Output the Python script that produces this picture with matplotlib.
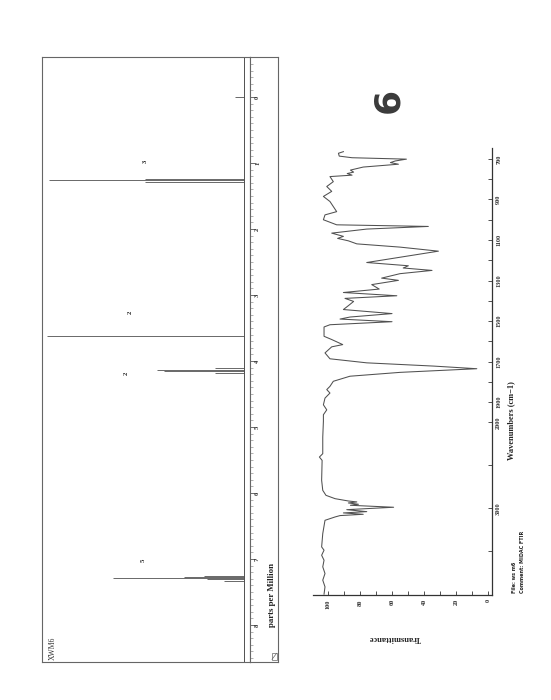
import matplotlib.pyplot as plt
import numpy as np
from matplotlib.patches import Rectangle

# scanned page: NMR + IR spectra, page turned 90 deg counter-clockwise

# 1H NMR peaks (ppm, height)
nmr_ppm = [0.0, 1.235, 1.26, 1.285, 3.62, 4.105, 4.13, 4.155, 4.18, 7.25, 7.27, 7.29, 7.31, 7.33]
nmr_int = [9, 99, 195, 99, 197, 29, 87, 80, 29, 40, 60, 131, 37, 20]

# integration labels
integ_text = ['3', '2', '2', '5']
integ_ppm = [0.98, 3.26, 4.18, 7.02]
integ_pos = [99, 114, 118, 101]

ppm_ticks = [0, 1, 2, 3, 4, 5, 6, 7, 8]

# IR spectrum (wavenumber cm-1, %T)
ir_wn = [664, 672, 686, 694, 701, 710, 718, 726, 740, 755, 765, 772, 780, 787,
         812, 836, 860, 885, 910, 935, 960, 976, 1000, 1025, 1033, 1046, 1066,
         1082, 1092, 1104, 1119, 1135, 1155, 1211, 1227, 1238, 1250, 1266, 1288,
         1299, 1320, 1342, 1359, 1375, 1388, 1403, 1424, 1443, 1463, 1480, 1490,
         1503, 1518, 1529, 1575, 1591, 1616, 1627, 1657, 1686, 1706, 1722, 1735,
         1753, 1772, 1797, 1822, 1838, 1855, 1880, 1913, 1938, 1962, 1995, 2171,
         2364, 2403, 2442, 2674, 2791, 2849, 2888, 2915, 2926, 2938, 2953, 2965,
         2988, 3016, 3039, 3054, 3070, 3085, 3101, 3140, 3295, 3450, 3488, 3547,
         3605, 3682, 3760, 3837, 3915, 4000]
ir_t = [90.4, 93.5, 93, 85, 51, 58, 61, 56, 78, 86, 84, 88, 85, 98.8,
        96.7, 100.8, 97.7, 102.9, 98.8, 96.7, 94.6, 101.9, 102.9, 94.6, 37.3, 75.8, 97.7,
        90.4, 94, 87.3, 82, 55, 31, 75.8, 49.8, 53, 35, 55, 66.5,
        56, 72.7, 68, 90.4, 57, 89.4, 84, 87.3, 90.4, 60, 86.3, 92.5,
        60, 98.8, 102.5, 102.5, 97.7, 90.8, 97.7, 101.9, 98.8, 75.8, 34, 7,
        55, 86.3, 96.7, 98.8, 100.8, 98.8, 101.9, 102.9, 100.8, 102.9, 102.9, 103.3,
        103.3, 105.4, 103.7, 104, 103.3, 101.3, 95.6, 87.3, 82, 87.3, 81, 86,
        59, 88.3, 75.8, 90.4, 78, 92.5, 95.6, 101.9, 103.3, 104, 102.5, 104,
        102.5, 103.3, 101.9, 103.3, 101.9, 102.5]

wn_major = [700, 900, 1100, 1300, 1500, 1700, 1900, 2000, 3000]
wn_minor = [800, 1000, 1200, 1400, 1600, 1800, 2500, 3500]
t_major = [0, 20, 40, 60, 80, 100]
t_minor = [10, 30, 50, 70, 90]

W, H = 551, 700
ink = '#505050'
serif = ['Liberation Serif', 'DejaVu Serif']


def rect(x0, y0, x1, y1):
    # pixel box (top-left / bottom-right) -> figure fractions
    return [x0 / W, 1 - y1 / H, (x1 - x0) / W, (y1 - y0) / H]


fig = plt.figure(figsize=(W / 100, H / 100), dpi=100)

# ---- NMR panel ----
ppm_top, ppm_bot = -0.606, 8.56
ax = fig.add_axes(rect(42, 57, 250, 662))
ax.set_xlim(202, -6)
ax.set_ylim(ppm_bot, ppm_top)
ax.axvline(0, color=ink, lw=0.7)
ax.hlines(nmr_ppm, 0, nmr_int, color=ink, lw=0.6)
for t, p, x in zip(integ_text, integ_ppm, integ_pos):
    ax.text(x, p, t, rotation=90, fontsize=4.8, fontweight='bold', color='#222',
            ha='center', va='center', family=serif)
ax.text(191, 8.36, 'XWM6', rotation=90, fontsize=5.5, color='#333',
        ha='center', va='center', family=serif)
ax.set_xticks([])
ax.set_yticks([])
for s in ax.spines.values():
    s.set_color('#666')
    s.set_linewidth(0.8)

# ppm scale strip
sx = fig.add_axes(rect(250, 57, 278, 662))
sx.set_xlim(0, 28)
sx.set_ylim(ppm_bot, ppm_top)
sx.set_xticks([])
sx.set_yticks(ppm_ticks)
sx.set_yticks(np.arange(-0.5, 8.56, 0.1), minor=True)
sx.tick_params(axis='y', which='major', direction='in', length=4, width=0.6,
               color='#555', labelleft=False)
sx.tick_params(axis='y', which='minor', direction='in', length=1.8, width=0.4,
               color='#777')
for p in ppm_ticks:
    sx.text(7.5, p, str(p), rotation=90, fontsize=4.5, fontweight='bold',
            ha='center', va='center', color='#333', family=serif)
sx.text(22, 7.55, 'parts per Million', rotation=90, fontsize=6.3,
        fontweight='bold', ha='center', va='center', color='#222', family=serif)
sx.add_patch(Rectangle((21.5, 8.42), 5.5, 0.11, fill=False, ec='#666', lw=0.5))
sx.plot([22, 26.5], [8.52, 8.43], color='#666', lw=0.5)
for s in sx.spines.values():
    s.set_color('#666')
    s.set_linewidth(0.8)

# ---- IR panel ----


def fwd(w):
    w = np.asarray(w, dtype=float)
    return np.where(w <= 2000, w, 2000 + (w - 2000) * 0.4236)


def inv(u):
    u = np.asarray(u, dtype=float)
    return np.where(u <= 2000, u, 2000 + (u - 2000) / 0.4236)


ir = fig.add_axes(rect(313, 148, 492, 595))
ir.set_yscale('function', functions=(fwd, inv))
ir.set_xlim(109.4, -2.5)
ir.set_ylim(4010, 646)
ir.plot(ir_t, ir_wn, color=ink, lw=0.75)

ir.spines['left'].set_visible(False)
ir.spines['top'].set_visible(False)
for s in ('bottom', 'right'):
    ir.spines[s].set_color('#333')
    ir.spines[s].set_linewidth(0.9)

ir.set_xticks(t_major)
ir.set_xticks(t_minor, minor=True)
ir.set_xticklabels([str(v) for v in t_major], rotation=90, fontsize=4.5,
                   fontweight='bold', family=serif)
ir.yaxis.tick_right()
ir.set_yticks(wn_major)
ir.set_yticks(wn_minor, minor=True)
ir.set_yticklabels([str(v) for v in wn_major], rotation=90, fontsize=4.5,
                   fontweight='bold', family=serif, va='center')
ir.tick_params(which='both', direction='in', length=3, width=0.6, colors='#333', pad=3)

fig.text(511 / W, 1 - 421 / H, 'Wavenumbers (cm\u22121)', rotation=90, fontsize=6,
         fontweight='bold', ha='center', va='center', color='#222', family=serif)
fig.text(395 / W, 1 - 638 / H, 'Transmittance', rotation=180, fontsize=6,
         fontweight='bold', ha='center', va='center', color='#222', family=serif)
fig.text(514 / W, 1 - 593 / H, 'File: ws m6', rotation=90, fontsize=3.5,
         fontweight='bold', ha='center', va='bottom', color='#222')
fig.text(522 / W, 1 - 593 / H, 'Comment: MIDAC FTIR', rotation=90, fontsize=3.5,
         fontweight='bold', ha='center', va='bottom', color='#222')

# handwritten problem number
fig.text(388 / W, 1 - 100 / H, '6', rotation=90, fontsize=26, fontweight='bold',
         ha='center', va='center', color='#3a3a3a')

fig.savefig('out.png', dpi=100)
